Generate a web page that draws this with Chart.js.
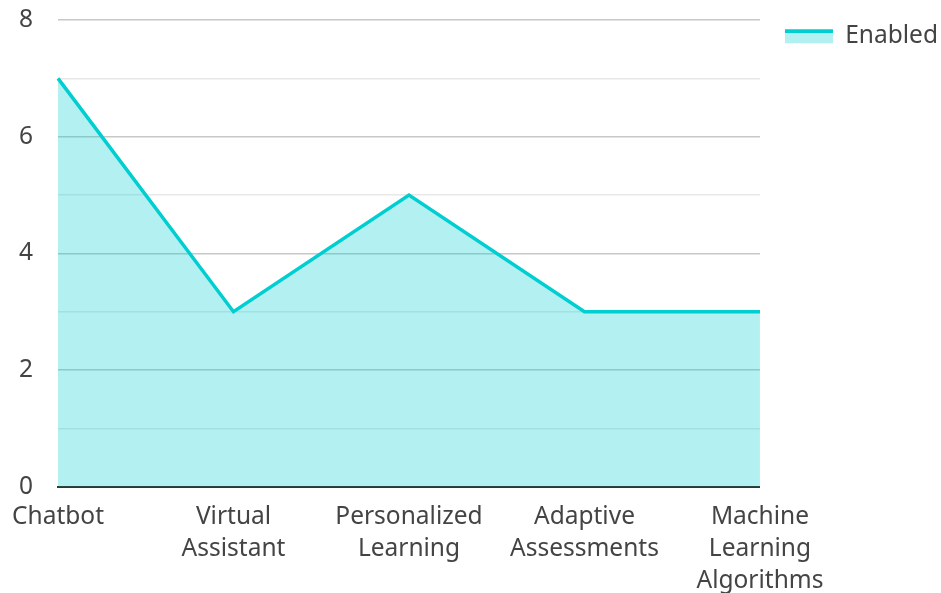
<!DOCTYPE html>
<html>
<head>
<meta charset="utf-8">
<script src="https://cdn.jsdelivr.net/npm/chart.js@4.4.0/dist/chart.umd.min.js"></script>
<style>
  html, body { margin: 0; padding: 0; background: #fff; }
  #wrap { width: 941px; height: 593px; }
</style>
</head>
<body>
<div id="wrap"><canvas id="chart"></canvas></div>
<script>
const categories = [
  'Chatbot',
  ['Virtual', 'Assistant'],
  ['Personalized', 'Learning'],
  ['Adaptive', 'Assessments'],
  ['Machine', 'Learning', 'Algorithms']
];
const enabledValues = [7, 3, 5, 3, 3];
const seriesName = 'Enabled';
const yTicks = [0, 2, 4, 6, 8];

const lineColor = '#00CED1';
const fillColor = 'rgba(0, 206, 209, 0.3)';
const textColor = '#444444';
const fontFamily = '"Noto Sans", "Open Sans", sans-serif';
const fontSize = 24.5;

// legend swatch: thick line on top, light fill underneath; nudge legend right
const legendSwatch = {
  id: 'legendSwatch',
  afterLayout(chart) {
    const lg = chart.legend;
    if (!lg) return;
    lg.left += 15;
    lg.right += 15;
  },
  beforeDraw(chart) {
    const lg = chart.legend;
    if (!lg || !lg.legendHitBoxes || !lg.legendHitBoxes.length) return;
    const hb = lg.legendHitBoxes[0];
    const bh = lg.options.labels.boxHeight;
    const top = hb.top + (hb.height - bh) / 2;
    const g = chart.ctx.createLinearGradient(0, top, 0, top + bh);
    const cut = 3.5 / bh;
    g.addColorStop(0, lineColor);
    g.addColorStop(cut, lineColor);
    g.addColorStop(cut, '#b2f0f1');
    g.addColorStop(1, '#b2f0f1');
    lg.legendItems[0].fillStyle = g;
  }
};

const ctx = document.getElementById('chart').getContext('2d');
new Chart(ctx, {
  type: 'line',
  data: {
    labels: categories,
    datasets: [{
      label: seriesName,
      data: enabledValues,
      borderColor: lineColor,
      backgroundColor: fillColor,
      borderWidth: 3.5,
      fill: 'origin',
      tension: 0,
      pointRadius: 0,
      pointHoverRadius: 0
    }]
  },
  options: {
    responsive: true,
    maintainAspectRatio: false,
    animation: false,
    layout: { padding: { top: 14, right: 8, bottom: -18 } },
    font: { family: fontFamily, size: fontSize },
    plugins: {
      legend: {
        position: 'right',
        align: 'start',
        labels: {
          color: textColor,
          boxWidth: 48,
          boxHeight: 14,
          padding: 10,
          font: { family: fontFamily, size: fontSize },
          generateLabels(chart) {
            const ds = chart.data.datasets[0];
            return [{
              text: ds.label,
              fillStyle: '#b2f0f1',
              strokeStyle: 'rgba(0,0,0,0)',
              lineWidth: 0,
              fontColor: textColor,
              datasetIndex: 0
            }];
          }
        }
      },
      tooltip: { enabled: false }
    },
    scales: {
      x: {
        offset: false,
        afterFit(scale) {
          scale.paddingLeft = 58;
        },
        grid: { display: false, drawTicks: false },
        border: { display: true, color: '#333333', width: 2 },
        ticks: {
          color: textColor,
          maxRotation: 0,
          autoSkip: false,
          padding: 14,
          font: { family: fontFamily, size: fontSize, lineHeight: 1.31 }
        }
      },
      y: {
        min: 0,
        max: 8,
        afterFit(scale) {
          // tick padding only meant horizontally
          scale.paddingTop = 20;
          scale.paddingBottom = 14;
          scale.width = 56;
        },
        grid: {
          drawTicks: false,
          lineWidth: 1.5,
          color: c => (yTicks.includes(c.tick.value) ? '#c8c8c8' : '#e8e8e8')
        },
        border: { display: false },
        ticks: {
          stepSize: 1,
          color: textColor,
          padding: 25,
          font: { family: fontFamily, size: fontSize },
          callback: v => (yTicks.includes(v) ? v : '')
        }
      }
    }
  },
  plugins: [legendSwatch]
});
</script>
</body>
</html>
